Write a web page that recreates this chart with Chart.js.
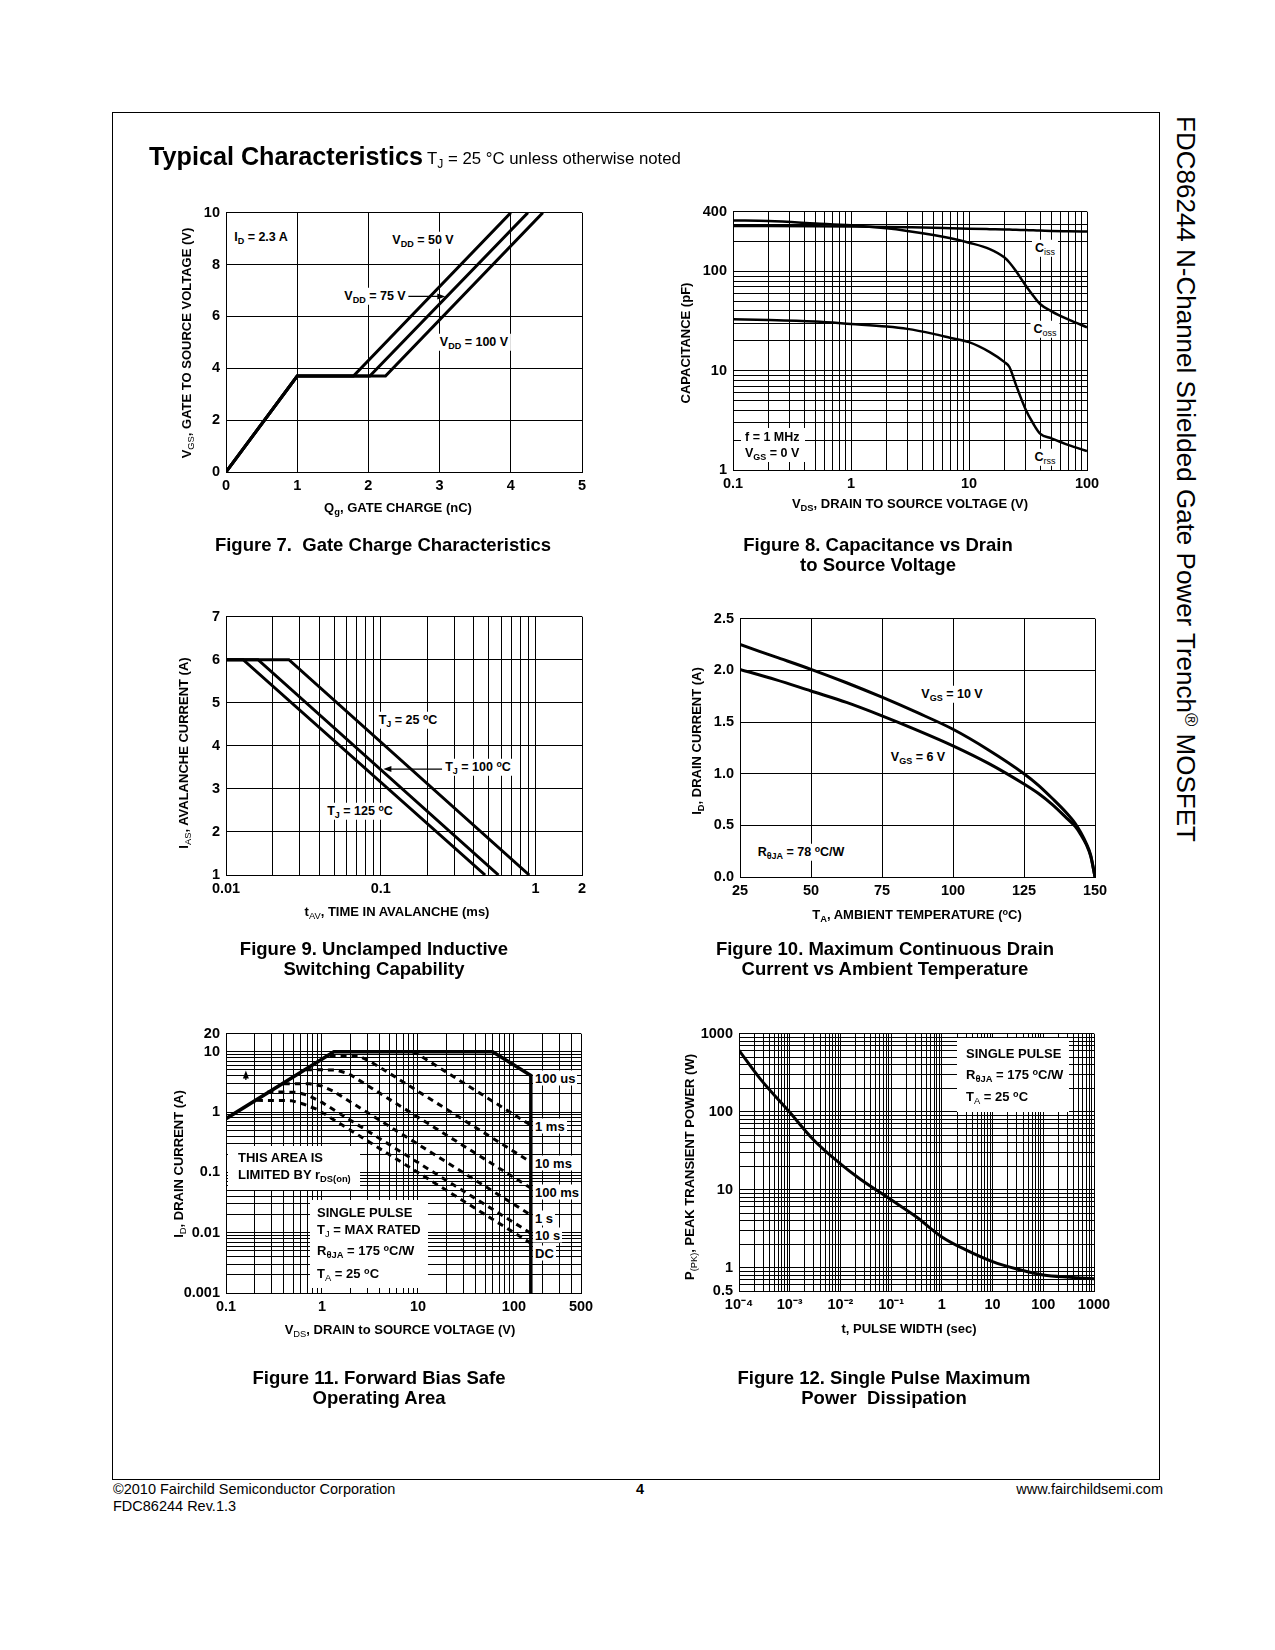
<!DOCTYPE html>
<html><head><meta charset="utf-8"><title>FDC86244 Typical Characteristics</title>
<script src="https://cdn.jsdelivr.net/npm/chart.js@4.4.1/dist/chart.umd.min.js"></script>
<style>
html,body{margin:0;padding:0;background:#fff;}
body{position:relative;width:1275px;height:1650px;overflow:hidden;font-family:"Liberation Sans",Arial,Helvetica,sans-serif;color:#000;}
.t{position:absolute;white-space:nowrap;line-height:1;}
.c{transform:translate(-50%,-50%);}
.l{transform:translate(0,-50%);}
.r{transform:translate(-100%,-50%);}
.v{transform:translate(-50%,-50%) rotate(-90deg);}
.b{font-weight:bold;}
.cap{position:absolute;white-space:nowrap;font-weight:bold;font-size:18.5px;text-align:center;line-height:20px;transform:translate(-50%,0);}
.ax{font-weight:bold;font-size:13px;}
.lab{font-weight:bold;font-size:12.5px;background:#fff;padding:2px 3px;}
.box{position:absolute;background:#fff;}
sub{font-size:72%;vertical-align:baseline;position:relative;top:0.3em;line-height:0;}
sup{font-size:70%;vertical-align:baseline;position:relative;top:-0.45em;line-height:0;}
.n{font-weight:normal;}
canvas{position:absolute;}
</style></head><body>
<div style="position:absolute;left:112px;top:112px;width:1046px;height:1366px;border:1px solid #000;"></div>

<div class="t b" style="left:149px;top:157px;font-size:25.2px;transform:translateY(-50%)">Typical Characteristics</div>
<div class="t" style="left:427px;top:159px;font-size:16.8px;transform:translateY(-50%)">T<sub>J</sub> = 25 °C unless otherwise noted</div>
<div class="t" style="left:1186px;top:479px;font-size:26px;transform:translate(-50%,-50%) rotate(90deg)">FDC86244 N-Channel Shielded Gate Power Trench<sup>®</sup> MOSFET</div>

<div class="t" style="left:113px;top:1489px;font-size:14.5px;transform:translateY(-50%)">©2010 Fairchild Semiconductor Corporation</div>
<div class="t" style="left:113px;top:1506px;font-size:14.5px;transform:translateY(-50%)">FDC86244 Rev.1.3</div>
<div class="t c b" style="left:640px;top:1489px;font-size:14.5px">4</div>
<div class="t r" style="left:1163px;top:1489px;font-size:14.5px">www.fairchildsemi.com</div>

<!-- Figure 7 texts -->
<div class="t ax c" style="left:398px;top:507px">Q<sub>g</sub>, GATE CHARGE (nC)</div>
<div class="t ax v" style="left:186px;top:343px">V<sub class="n">GS</sub>, GATE TO SOURCE VOLTAGE (V)</div>
<div class="cap" style="left:383px;top:535px">Figure 7.&nbsp; Gate Charge Characteristics</div>
<div class="t lab c" style="left:261px;top:237px">I<sub>D</sub> = 2.3 A</div>
<div class="t lab c" style="left:423px;top:240px">V<sub>DD</sub> = 50 V</div>
<div class="t lab c" style="left:375px;top:296px">V<sub>DD</sub> = 75 V</div>
<div class="t lab c" style="left:474px;top:342px">V<sub>DD</sub> = 100 V</div>

<!-- Figure 8 texts -->
<div class="t ax c" style="left:910px;top:503px">V<sub>DS</sub>, DRAIN TO SOURCE VOLTAGE (V)</div>
<div class="t ax v" style="left:685px;top:343px">CAPACITANCE (pF)</div>
<div class="cap" style="left:878px;top:535px">Figure 8. Capacitance vs Drain<br>to Source Voltage</div>
<div class="t lab c" style="left:1045px;top:248px">C<sub class="n">iss</sub></div>
<div class="t lab c" style="left:1045px;top:329px">C<sub class="n">oss</sub></div>
<div class="t lab c" style="left:1045px;top:457px">C<sub class="n">rss</sub></div>
<div class="box" style="left:741px;top:428px;width:64px;height:34px"></div>
<div class="t b" style="left:745px;top:437px;font-size:12.5px;transform:translateY(-50%)">f = 1 MHz</div>
<div class="t b" style="left:745px;top:453px;font-size:12.5px;transform:translateY(-50%)">V<sub>GS</sub> = 0 V</div>

<!-- Figure 9 texts -->
<div class="t ax c" style="left:397px;top:911px">t<sub class="n">AV</sub>, TIME IN AVALANCHE (ms)</div>
<div class="t ax v" style="left:183px;top:753px">I<sub class="n">AS</sub>, AVALANCHE CURRENT (A)</div>
<div class="cap" style="left:374px;top:939px">Figure 9. Unclamped Inductive<br>Switching Capability</div>
<div class="t lab c" style="left:408px;top:720px">T<sub>J</sub> = 25 <sup>o</sup>C</div>
<div class="t lab c" style="left:478px;top:767px">T<sub>J</sub> = 100 <sup>o</sup>C</div>
<div class="t lab c" style="left:360px;top:811px">T<sub>J</sub> = 125 <sup>o</sup>C</div>

<!-- Figure 10 texts -->
<div class="t ax c" style="left:917px;top:914px">T<sub>A</sub>, AMBIENT TEMPERATURE (<sup>o</sup>C)</div>
<div class="t ax v" style="left:696px;top:741px">I<sub>D</sub>, DRAIN CURRENT (A)</div>
<div class="cap" style="left:885px;top:939px">Figure 10. Maximum Continuous Drain<br>Current vs Ambient Temperature</div>
<div class="t lab c" style="left:952px;top:694px">V<sub>GS</sub> = 10 V</div>
<div class="t lab c" style="left:918px;top:757px">V<sub>GS</sub> = 6 V</div>
<div class="t lab c" style="left:801px;top:852px">R<sub>θJA</sub> = 78 <sup>o</sup>C/W</div>

<!-- Figure 11 texts -->
<div class="t ax c" style="left:400px;top:1329px">V<sub class="n">DS</sub>, DRAIN to SOURCE VOLTAGE (V)</div>
<div class="t ax v" style="left:178px;top:1164px">I<sub class="n">D</sub>, DRAIN CURRENT (A)</div>
<div class="cap" style="left:379px;top:1368px">Figure 11. Forward Bias Safe<br>Operating Area</div>
<div class="box" style="left:228px;top:1146px;width:132px;height:44px"></div>
<div class="t b" style="left:238px;top:1157px;font-size:13px;transform:translateY(-50%)">THIS AREA IS</div>
<div class="t b" style="left:238px;top:1174px;font-size:13px;transform:translateY(-50%)">LIMITED BY r<sub>DS(on)</sub></div>
<div class="box" style="left:310px;top:1200px;width:118px;height:88px"></div>
<div class="t b" style="left:317px;top:1212px;font-size:13px;transform:translateY(-50%)">SINGLE PULSE</div>
<div class="t b" style="left:317px;top:1229px;font-size:13px;transform:translateY(-50%)">T<sub class="n">J</sub> = MAX RATED</div>
<div class="t b" style="left:317px;top:1250px;font-size:13px;transform:translateY(-50%)">R<sub>θJA</sub> = 175 <sup>o</sup>C/W</div>
<div class="t b" style="left:317px;top:1273px;font-size:13px;transform:translateY(-50%)">T<sub class="n">A</sub> = 25 <sup>o</sup>C</div>
<div class="t lab l" style="left:533px;top:1078px;font-size:13px;padding:1px 2px">100 us</div>
<div class="t lab l" style="left:533px;top:1126px;font-size:13px;padding:1px 2px">1 ms</div>
<div class="t lab l" style="left:533px;top:1163px;font-size:13px;padding:1px 2px">10 ms</div>
<div class="t lab l" style="left:533px;top:1192px;font-size:13px;padding:1px 2px">100 ms</div>
<div class="t lab l" style="left:533px;top:1218px;font-size:13px;padding:1px 2px">1 s</div>
<div class="t lab l" style="left:533px;top:1235px;font-size:13px;padding:1px 2px">10 s</div>
<div class="t lab l" style="left:533px;top:1253px;font-size:13px;padding:1px 2px">DC</div>

<!-- Figure 12 texts -->
<div class="t ax c" style="left:909px;top:1328px">t, PULSE WIDTH (sec)</div>
<div class="t ax v" style="left:689px;top:1167px">P<sub class="n">(PK)</sub>, PEAK TRANSIENT POWER (W)</div>
<div class="cap" style="left:884px;top:1368px">Figure 12. Single Pulse Maximum<br>Power&nbsp; Dissipation</div>
<div class="box" style="left:957px;top:1038px;width:112px;height:74px"></div>
<div class="t b" style="left:966px;top:1053px;font-size:13px;transform:translateY(-50%)">SINGLE PULSE</div>
<div class="t b" style="left:966px;top:1074px;font-size:13px;transform:translateY(-50%)">R<sub>θJA</sub> = 175 <sup>o</sup>C/W</div>
<div class="t b" style="left:966px;top:1096px;font-size:13px;transform:translateY(-50%)">T<sub class="n">A</sub> = 25 <sup>o</sup>C</div>

<script>
// ---------------- DATA ----------------
// Figure 7: gate charge
const fig7Q50  = [0, 1, 1.79, 4.00];
const fig7Q75  = [0, 1, 2.02, 4.24];
const fig7Q100 = [0, 1, 2.24, 4.45];
const fig7Vgs  = [0, 3.7, 3.7, 10];
const fig7Arrow = {from:[2.55, 6.77], to:[3.08, 6.77]};

// Figure 8: capacitance vs Vds
const fig8Vds  = [0.1, 0.2, 0.5, 1, 2, 3, 5, 7, 10, 15, 20, 22, 25, 30, 35, 40, 50, 70, 100];
const fig8Ciss = [287, 287, 286, 284, 281, 279, 276, 273, 270, 267, 265, 264, 263, 261, 260, 258, 256, 254, 252];
const fig8Coss = [327, 322, 305, 292, 272, 256, 233, 216, 195, 168, 138, 123, 101, 73, 57, 47, 39.7, 32.7, 27.4];
const fig8Crss = [33, 32.5, 31.3, 29.6, 27.9, 26.4, 23.5, 21.4, 19.4, 15.4, 12.2, 10.9, 7.2, 4.15, 2.94, 2.33, 2.08, 1.78, 1.55];
const fig8XLabels = [0.1, 1, 10, 100];
const fig8YLabels = [1, 10, 100, 400];

// Figure 9: unclamped inductive switching
const fig9T25x  = [0.01, 0.0255, 0.912];
const fig9T100x = [0.01, 0.0161, 0.577];
const fig9T125x = [0.01, 0.0129, 0.473];
const fig9Ias   = [6, 6, 1];
const fig9XLabels = [0.01, 0.1, 1, 2];
const fig9Arrow = {from:[0.25, 3.46], to:[0.104, 3.46]};

// Figure 10: max continuous drain current vs ambient temperature
const fig10Ta   = [25, 37.5, 50, 62.5, 75, 87.5, 100, 112.5, 125, 130, 135, 140, 143, 145, 147, 148.5, 150];
const fig10Vgs10 = [2.25, 2.13, 2.01, 1.88, 1.74, 1.59, 1.43, 1.23, 1.00, 0.89, 0.76, 0.62, 0.52, 0.43, 0.32, 0.21, 0];
const fig10Vgs6  = [2.01, 1.91, 1.80, 1.69, 1.56, 1.42, 1.27, 1.10, 0.90, 0.81, 0.70, 0.57, 0.49, 0.41, 0.31, 0.20, 0];

// Figure 11: forward bias safe operating area
const fig11LimitV = [0.1, 1.33, 60, 150, 150];
const fig11LimitI = [0.78, 10, 10, 4.05, 0.001];
const fig11ms1V   = [8.8, 10, 12, 150];
const fig11ms1I   = [10, 9.2, 7.6, 0.607];
const fig11ms10V  = [1.2, 2.4, 3.0, 4.0, 150];
const fig11ms10I  = [8.7, 8.6, 7.3, 5.55, 0.148];
const fig11ms100V = [0.68, 1.4, 1.9, 2.5, 150];
const fig11ms100I = [5.06, 5.0, 4.35, 3.3, 0.055];
const fig11s1V    = [0.40, 0.75, 1.0, 1.3, 150];
const fig11s1I    = [2.97, 2.95, 2.7, 2.25, 0.0197];
const fig11s10V   = [0.27, 0.54, 0.72, 1.0, 150];
const fig11s10I   = [2.16, 2.14, 1.9, 1.45, 0.0098];
const fig11dcV    = [0.21, 0.48, 0.65, 0.9, 150];
const fig11dcI    = [1.57, 1.55, 1.35, 1.1, 0.0067];
const fig11XLabels = [0.1, 1, 10, 100, 500];
const fig11YLabels = [0.001, 0.01, 0.1, 1, 10, 20];
const fig11Arrow = {from:[0.161, 3.4], to:[0.161, 4.9]};

// Figure 12: single pulse maximum power dissipation
const fig12T = [1e-4, 2.6e-4, 1e-3, 2.9e-3, 1e-2, 0.024, 0.1, 0.316, 1, 3.05, 10, 31.8, 100, 331, 1000];
const fig12P = [612, 265, 98, 44, 21.4, 13.8, 7.4, 4.45, 2.47, 1.67, 1.19, 0.95, 0.80, 0.75, 0.72];
const fig12XLabels = [1e-4, 1e-3, 1e-2, 1e-1, 1, 10, 100, 1000];
const fig12XText   = ['10\u207B\u2074', '10\u207B\u00B3', '10\u207B\u00B2', '10\u207B\u00B9', '1', '10', '100', '1000'];
const fig12YLabels = [0.5, 1, 10, 100, 1000];

// ---------------- HELPERS ----------------
const FONT = "'Liberation Sans', Arial, Helvetica, sans-serif";
Chart.defaults.font.family = FONT;
Chart.defaults.color = '#000';

function near(v, arr){ return arr.findIndex(a => Math.abs(v - a) <= Math.abs(a) * 1e-6); }
function logGrid(min, max){
  const out = [];
  for (let e = Math.floor(Math.log10(min)) ; e <= Math.ceil(Math.log10(max)); e++){
    for (let m = 1; m < 10; m++){
      const v = +(m * Math.pow(10, e)).toPrecision(6);
      if (v >= min * 0.99999 && v <= max * 1.00001) out.push(v);
    }
  }
  return out;
}
function pts(xs, ys){ return xs.map((x, i) => ({x: x, y: ys[i]})); }
function line(xs, ys, extra){
  return Object.assign({data: pts(xs, ys), borderColor:'#000', borderWidth:3, pointRadius:0,
    fill:false, tension:0, borderCapStyle:'butt', borderJoinStyle:'miter'}, extra || {});
}
function numLabel(v){ return String(+v.toPrecision(6)); }

const arrowPlugin = {
  id:'arrows',
  afterDatasetsDraw(chart, args, opts){
    const list = (opts && opts.list) || [];
    const ctx = chart.ctx, sx = chart.scales.x, sy = chart.scales.y;
    list.forEach(a => {
      const x1 = sx.getPixelForValue(a.from[0]), y1 = sy.getPixelForValue(a.from[1]);
      const x2 = sx.getPixelForValue(a.to[0]),   y2 = sy.getPixelForValue(a.to[1]);
      const ang = Math.atan2(y2 - y1, x2 - x1), L = 8, W = 3;
      ctx.save();
      ctx.strokeStyle = '#000'; ctx.fillStyle = '#000'; ctx.lineWidth = 1.2;
      ctx.beginPath(); ctx.moveTo(x1, y1);
      ctx.lineTo(x2 - Math.cos(ang) * L * 0.7, y2 - Math.sin(ang) * L * 0.7); ctx.stroke();
      ctx.beginPath(); ctx.moveTo(x2, y2);
      ctx.lineTo(x2 - L * Math.cos(ang) + W * Math.sin(ang), y2 - L * Math.sin(ang) - W * Math.cos(ang));
      ctx.lineTo(x2 - L * Math.cos(ang) - W * Math.sin(ang), y2 - L * Math.sin(ang) + W * Math.cos(ang));
      ctx.closePath(); ctx.fill();
      ctx.restore();
    });
  }
};

function makeChart(rect, xCfg, yCfg, datasets, arrows){
  const YW = 64, PT = 14, PR = 36, XH = 32;
  const cv = document.createElement('canvas');
  cv.width = YW + rect.w + PR; cv.height = PT + rect.h + XH;
  cv.style.left = (rect.x - YW) + 'px'; cv.style.top = (rect.y - PT) + 'px';
  cv.style.width = cv.width + 'px'; cv.style.height = cv.height + 'px';
  document.body.insertBefore(cv, document.body.firstChild);
  function axis(cfg, isX){
    const a = {
      type: cfg.type, min: cfg.min, max: cfg.max, position: isX ? 'bottom' : 'left',
      grid: {color:'#000', lineWidth:1, drawTicks:false},
      border: {display:true, color:'#000', width:1},
      ticks: {autoSkip:false, maxRotation:0, minRotation:0, padding: isX ? 5 : 6, color:'#000',
              font:{size:14.5, weight:'bold', family:FONT}, callback: cfg.callback},
      afterFit: isX ? (s => { s.height = XH; }) : (s => { s.width = YW; })
    };
    if (cfg.grid) a.afterBuildTicks = s => { s.ticks = cfg.grid.map(v => ({value: v})); };
    if (cfg.step) a.ticks.stepSize = cfg.step;
    return a;
  }
  return new Chart(cv, {
    type:'line',
    data:{datasets: datasets},
    options:{
      responsive:false, maintainAspectRatio:false, devicePixelRatio:1, animation:false, events:[],
      layout:{padding:{left:0, top:PT, right:PR, bottom:0}},
      plugins:{legend:{display:false}, tooltip:{enabled:false}, arrows:{list: arrows || []}},
      scales:{x: axis(xCfg, true), y: axis(yCfg, false)}
    },
    plugins:[arrowPlugin]
  });
}
function logLabels(list, texts){
  return v => { const i = near(v, list); return i < 0 ? '' : (texts ? texts[i] : numLabel(v)); };
}

// ---------------- CHARTS ----------------
// Figure 7
makeChart({x:226, y:212, w:356, h:260},
  {type:'linear', min:0, max:5, step:1, callback: v => String(v)},
  {type:'linear', min:0, max:10, step:2, callback: v => String(v)},
  [line(fig7Q50, fig7Vgs), line(fig7Q75, fig7Vgs), line(fig7Q100, fig7Vgs)],
  [fig7Arrow]);

// Figure 8
makeChart({x:733, y:211, w:354, h:259},
  {type:'logarithmic', min:0.1, max:100, grid: logGrid(0.1, 100), callback: logLabels(fig8XLabels)},
  {type:'logarithmic', min:1, max:400, grid: logGrid(1, 400), callback: logLabels(fig8YLabels)},
  [line(fig8Vds, fig8Ciss, {borderWidth:2.5, cubicInterpolationMode:'monotone'}),
   line(fig8Vds, fig8Coss, {borderWidth:2.5, cubicInterpolationMode:'monotone'}),
   line(fig8Vds, fig8Crss, {borderWidth:2.5, cubicInterpolationMode:'monotone'})]);

// Figure 9
makeChart({x:226, y:616, w:356, h:259},
  {type:'logarithmic', min:0.01, max:2, grid: logGrid(0.01, 2), callback: logLabels(fig9XLabels)},
  {type:'linear', min:1, max:7, step:1, callback: v => String(v)},
  [line(fig9T25x, fig9Ias), line(fig9T100x, fig9Ias), line(fig9T125x, fig9Ias)],
  [fig9Arrow]);

// Figure 10
makeChart({x:740, y:618, w:355, h:259},
  {type:'linear', min:25, max:150, step:25, callback: v => String(v)},
  {type:'linear', min:0, max:2.5, step:0.5, callback: v => Number(v).toFixed(1)},
  [line(fig10Ta, fig10Vgs10, {cubicInterpolationMode:'monotone'}),
   line(fig10Ta, fig10Vgs6, {cubicInterpolationMode:'monotone'})]);

// Figure 11
const dash = {borderDash:[6,5], borderWidth:3};
makeChart({x:226, y:1033, w:355, h:260},
  {type:'logarithmic', min:0.1, max:500, grid: logGrid(0.1, 500), callback: logLabels(fig11XLabels)},
  {type:'logarithmic', min:0.001, max:20, grid: logGrid(0.001, 20), callback: logLabels(fig11YLabels)},
  [line(fig11LimitV, fig11LimitI, {borderWidth:3.5}),
   line(fig11ms1V, fig11ms1I, dash), line(fig11ms10V, fig11ms10I, dash),
   line(fig11ms100V, fig11ms100I, dash), line(fig11s1V, fig11s1I, dash),
   line(fig11s10V, fig11s10I, dash), line(fig11dcV, fig11dcI, dash)],
  [fig11Arrow]);

// Figure 12
makeChart({x:739, y:1033, w:355, h:258},
  {type:'logarithmic', min:1e-4, max:1000, grid: logGrid(1e-4, 1000), callback: logLabels(fig12XLabels, fig12XText)},
  {type:'logarithmic', min:0.5, max:1000, grid: logGrid(0.5, 1000), callback: logLabels(fig12YLabels)},
  [line(fig12T, fig12P, {cubicInterpolationMode:'monotone'})]);
</script>
</body></html>
